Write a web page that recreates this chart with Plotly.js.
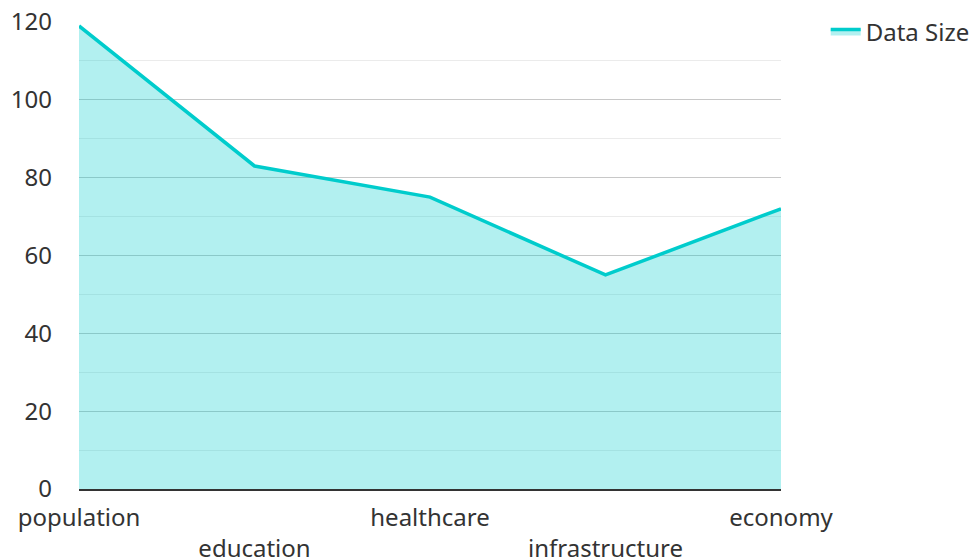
<!DOCTYPE html>
<html>
<head>
<meta charset="utf-8">
<script src="https://cdn.plot.ly/plotly-3.0.1.min.js"></script>
<style>html,body{margin:0;padding:0;background:#fff;}#chart{width:976px;height:558px;}</style>
</head>
<body>
<div id="chart"></div>
<script>
const categories = ['population', 'education', 'healthcare', 'infrastructure', 'economy'];
const dataSize = [119, 83, 75, 55, 72];
const tickLabels = ['population', '<br>education', 'healthcare', '<br>infrastructure', 'economy'];
const seriesName = 'Data Size';

const trace = {
  x: categories,
  y: dataSize,
  name: seriesName,
  type: 'scatter',
  mode: 'lines',
  fill: 'tozeroy',
  fillcolor: 'rgba(0,204,204,0.3)',
  line: {color: 'rgb(0,204,204)', width: 3.5},
  hoverinfo: 'x+y'
};

const layout = {
  width: 976, height: 558,
  margin: {l: 79, r: 195, t: 22, b: 69, autoexpand: false},
  paper_bgcolor: '#fff', plot_bgcolor: '#fff',
  font: {family: 'Noto Sans, Open Sans, sans-serif', size: 24, color: '#333'},
  showlegend: true,
  legend: {xref: 'container', yref: 'container', x: 0.846, y: 0.983, xanchor: 'left', yanchor: 'top',
           font: {size: 24, color: '#333'}, bgcolor: 'rgba(0,0,0,0)'},
  xaxis: {
    type: 'category',
    range: [0, 4],
    tickvals: categories,
    ticktext: tickLabels,
    showgrid: false,
    showline: true, linecolor: '#333', linewidth: 2,
    ticks: '', ticklabelstandoff: 6,
    zeroline: false,
    fixedrange: true
  },
  yaxis: {
    range: [0, 120],
    dtick: 20,
    showgrid: true, gridcolor: '#c8c8c8', gridwidth: 1,
    minor: {dtick: 10, showgrid: true, gridcolor: '#ebebeb', gridwidth: 1},
    zeroline: false, showline: false,
    ticks: '', ticklabelstandoff: 26,
    fixedrange: true
  }
};

Plotly.newPlot('chart', [trace], layout, {displayModeBar: false, staticPlot: true});
</script>
</body>
</html>
